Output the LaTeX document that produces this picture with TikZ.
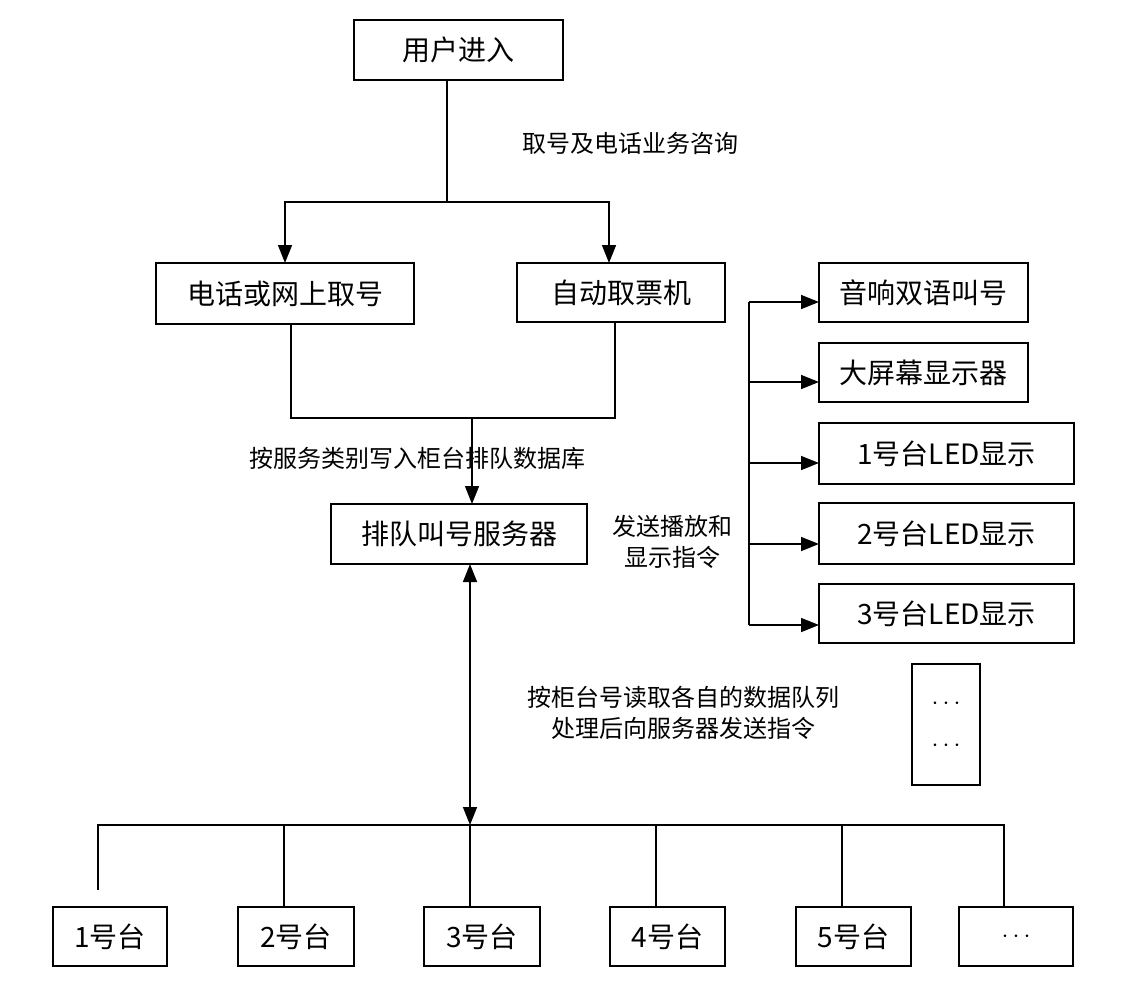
\documentclass[tikz,border=0pt]{standalone}
\usepackage{fontspec}
\newfontfamily\cjk{Noto Sans CJK SC}
\usetikzlibrary{arrows.meta, positioning, calc}

\begin{document}
\begin{tikzpicture}[x=1pt, y=-1pt, outer sep=0pt, line width=1.5pt]

\tikzstyle{box}=[rectangle,draw,anchor=north west,inner sep=0pt,font=\cjk\fontsize{28}{32}\selectfont]
\tikzstyle{lbl}=[align=center,font=\cjk\fontsize{24}{31}\selectfont]
\tikzstyle{arr}=[-{Triangle[length=18pt,width=14pt]}]

\useasboundingbox[fill=white] (0,0) rectangle (1126,990);

% upper part
\node[box,minimum width=209pt,minimum height=60pt] (user) at (354,20) {用户进入};
\node[box,minimum width=258pt,minimum height=61pt] (phone) at (156,263) {电话或网上取号};
\node[box,minimum width=208pt,minimum height=59pt] (kiosk) at (517,263) {自动取票机};
\node[box,minimum width=256pt,minimum height=60pt] (server) at (331,504) {排队叫号服务器};

\coordinate (split) at (447,202);
\draw (user.south -| split) -- (split);
\draw[arr] (split) -| (phone.north -| 285,0);
\draw[arr] (split) -| (kiosk.north -| 609,0);
\node[lbl] (lbltake) at (630,143) {取号及电话业务咨询};

\coordinate (join) at (472,418);
\draw (phone.south -| 291,0) |- (615,418) -- (kiosk.south -| 615,0);
\draw[arr] (join) -- (server.north -| join);
\node[lbl] (lblwrite) at (417,458) {按服务类别写入柜台排队数据库};

% right column
\node[box,minimum width=209pt,minimum height=59pt] (voice) at (819,263) {音响双语叫号};
\node[box,minimum width=209pt,minimum height=59pt] (screen) at (819,343) {大屏幕显示器};
\node[box,minimum width=255pt,minimum height=61pt] (led1) at (819,423) {1号台LED显示};
\node[box,minimum width=255pt,minimum height=61pt] (led2) at (819,503) {2号台LED显示};
\node[box,minimum width=255pt,minimum height=59pt] (led3) at (819,584) {3号台LED显示};
\node[box,minimum width=68pt,minimum height=121pt,align=center] (ledmore) at (912,664) {$\cdots$\\[10pt]$\cdots$};

\coordinate (bus) at (749,302);
\draw (bus) -- (749,625);
\foreach \t/\y in {voice/302,screen/382,led1/463,led2/544,led3/625}
  \draw[arr] (749,\y) -- (\t.west |- 0,\y);
\node[lbl] (lblsend) at (672,542) {发送播放和\\显示指令};

% lower part
\node[box,minimum width=114pt,minimum height=59pt] (desk1) at (53,907) {1号台};
\node[box,minimum width=116pt,minimum height=59pt] (desk2) at (238,907) {2号台};
\node[box,minimum width=116pt,minimum height=59pt] (desk3) at (424,907) {3号台};
\node[box,minimum width=115pt,minimum height=59pt] (desk4) at (610,907) {4号台};
\node[box,minimum width=115pt,minimum height=59pt] (desk5) at (796,907) {5号台};
\node[box,minimum width=114pt,minimum height=59pt] (deskmore) at (959,907) {$\cdots$};

\coordinate (hub) at (470,825);
\draw[{Triangle[length=18pt,width=14pt]}-{Triangle[length=18pt,width=14pt]}] (server.south -| hub) -- (hub);
\draw (98,890) |- (1004,825) -- (deskmore.north -| 1004,0);
\foreach \x/\d in {284/desk2,470/desk3,656/desk4,842/desk5}
  \draw (\x,825) -- (\d.north -| \x,0);
\node[lbl] (lblread) at (683,713) {按柜台号读取各自的数据队列\\处理后向服务器发送指令};

\end{tikzpicture}
\end{document}
